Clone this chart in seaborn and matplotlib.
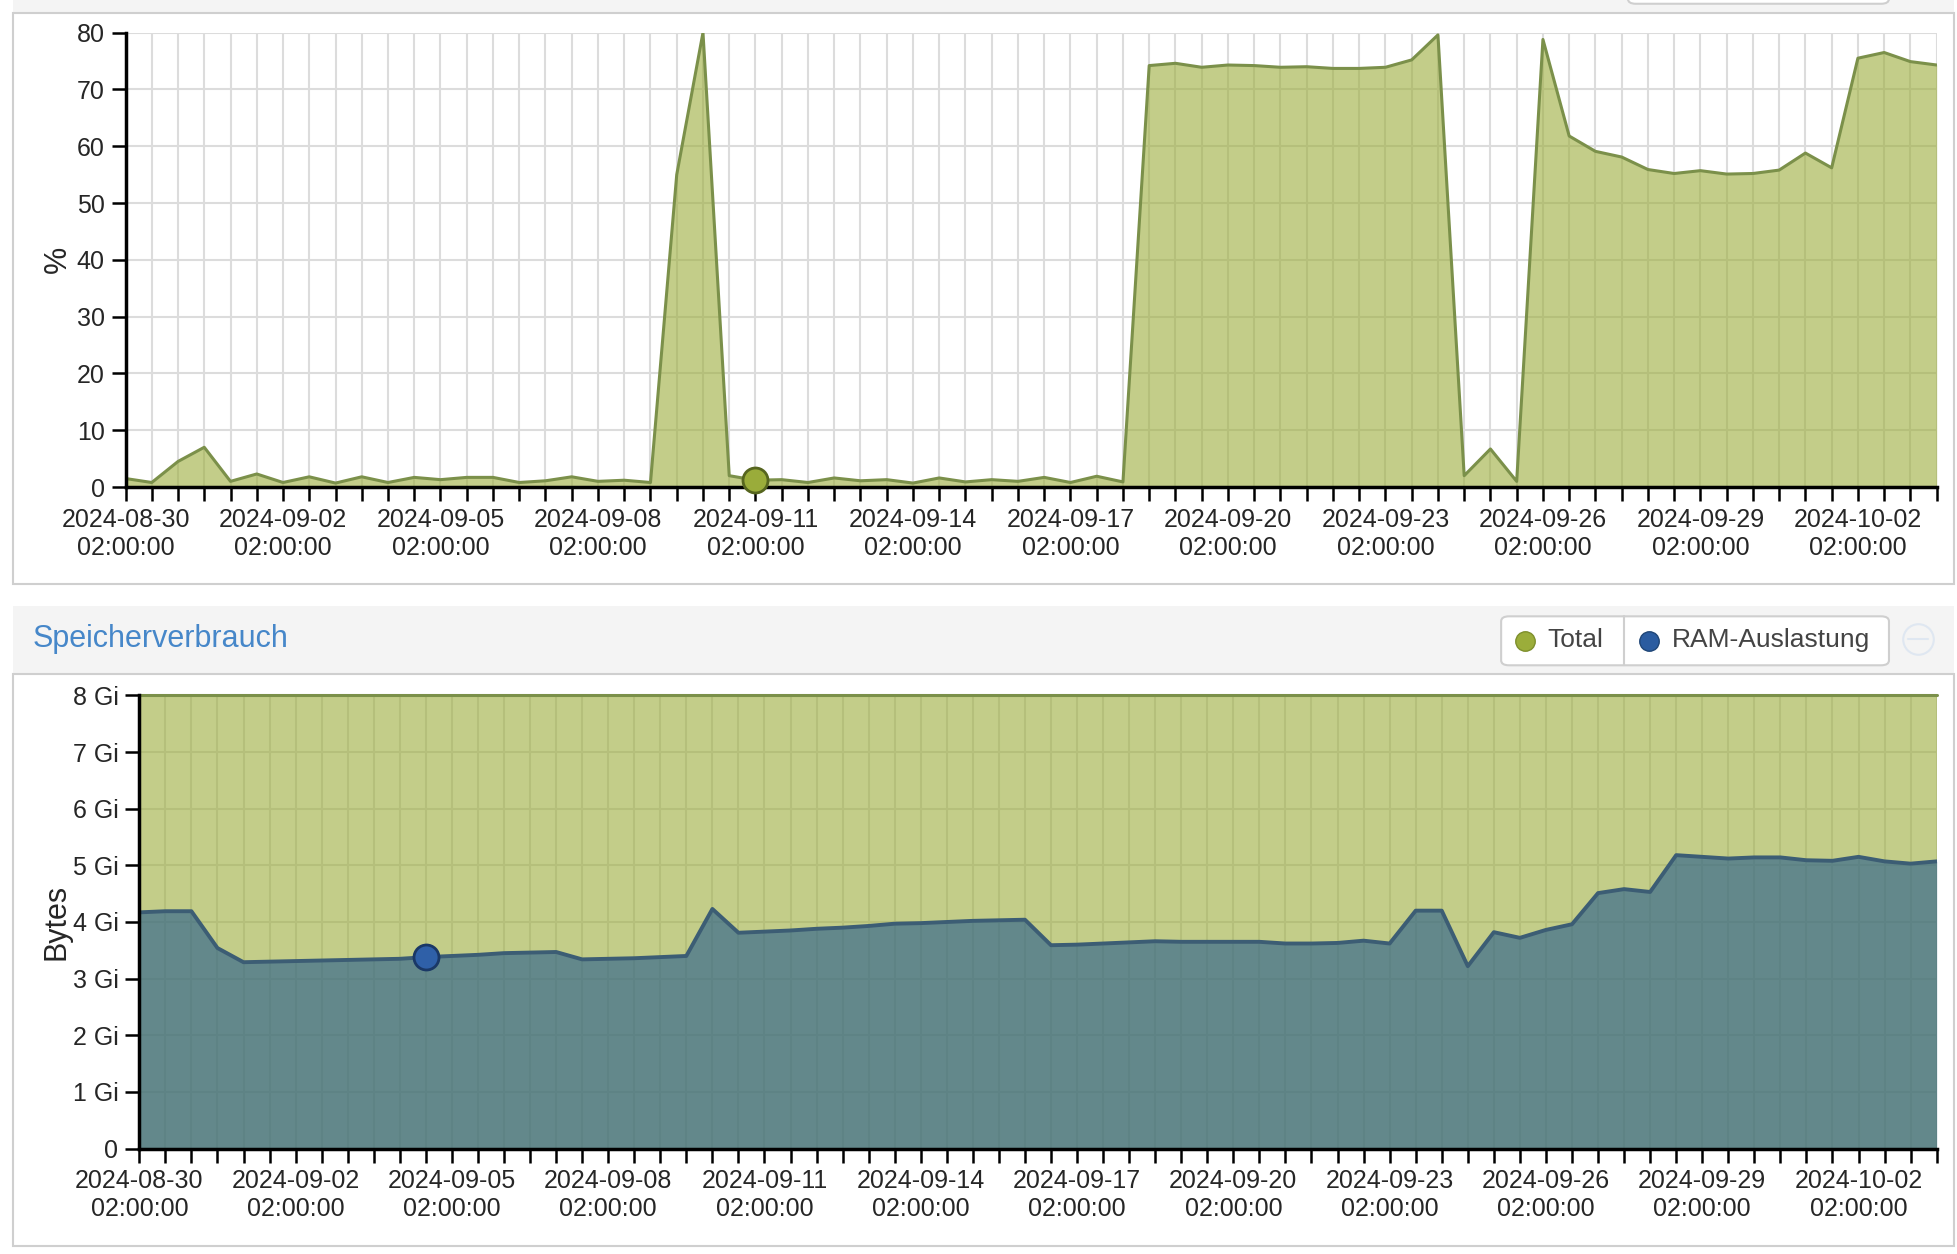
import numpy as np
import pandas as pd
import matplotlib
matplotlib.use("Agg")
import matplotlib.pyplot as plt
import seaborn as sns
from matplotlib.patches import Rectangle, FancyBboxPatch
from matplotlib.lines import Line2D

# ---------------- data ----------------
start_time = "2024-08-30 02:00"
step = "12h"

cpu_total = [1.5, 0.8, 4.5, 7.0, 1.0, 2.3, 0.8, 1.8, 0.7, 1.8,
             0.8, 1.7, 1.3, 1.7, 1.7, 0.8, 1.1, 1.8, 1.0, 1.2,
             0.8, 55.0, 80.0, 2.0, 1.2, 1.3, 0.8, 1.6, 1.1, 1.3,
             0.7, 1.6, 0.9, 1.3, 1.0, 1.7, 0.8, 1.9, 0.9, 74.2,
             74.6, 73.9, 74.3, 74.2, 73.9, 74.0, 73.7, 73.7, 73.9, 75.2,
             79.6, 2.0, 6.7, 1.0, 78.8, 61.8, 59.1, 58.1, 55.9, 55.2,
             55.7, 55.1, 55.2, 55.8, 58.8, 56.2, 75.5, 76.5, 74.9, 74.3]

ram_used_gi = [4.17, 4.19, 4.19, 3.54, 3.29, 3.30, 3.31, 3.32, 3.33, 3.34,
               3.35, 3.38, 3.40, 3.42, 3.45, 3.46, 3.47, 3.34, 3.35, 3.36,
               3.38, 3.40, 4.23, 3.81, 3.83, 3.85, 3.88, 3.90, 3.93, 3.97,
               3.98, 4.00, 4.02, 4.03, 4.04, 3.59, 3.60, 3.62, 3.64, 3.66,
               3.65, 3.65, 3.65, 3.65, 3.62, 3.62, 3.63, 3.67, 3.62, 4.20,
               4.20, 3.22, 3.82, 3.72, 3.86, 3.96, 4.51, 4.58, 4.53, 5.18,
               5.15, 5.12, 5.14, 5.14, 5.09, 5.08, 5.15, 5.07, 5.03, 5.07]

ram_total_gi = [8.0] * len(ram_used_gi)

cpu_yticks = [0, 10, 20, 30, 40, 50, 60, 70, 80]
ram_yticks = [0, 1, 2, 3, 4, 5, 6, 7, 8]
ram_ytick_labels = ["0", "1 Gi", "2 Gi", "3 Gi", "4 Gi", "5 Gi", "6 Gi", "7 Gi", "8 Gi"]

title_mem = "Speicherverbrauch"
legend_labels = ["Total", "RAM-Auslastung"]
cpu_ylabel = "%"
ram_ylabel = "Bytes"
cpu_marker_idx = 24
ram_marker_idx = 11

times = pd.date_range(start_time, periods=len(cpu_total), freq=step)
df_cpu = pd.DataFrame({"time": times, "cpu": cpu_total})
df_ram = pd.DataFrame({"time": times, "used": ram_used_gi, "total": ram_total_gi})

# ---------------- style ----------------
sns.set_theme(style="white")
plt.rcParams['font.family'] = ['Liberation Sans', 'DejaVu Sans']

GREEN = "#9bad3a"
GREEN_LINE = "#7b904a"
BLUE_FILL = "#245b8d"
BLUE_LINE = "#3c5d74"
GRID = "#dcdcdc"
BORDER = "#cfcfcf"
HEADER = "#f4f4f4"
FS = 18

W, H = 1560.0, 999.0
def fx(x): return x / W
def fy(y): return 1 - y / H

fig = plt.figure(figsize=(19.58, 12.54), dpi=100)
fig.patch.set_facecolor("white")

# header strips & panel boxes
fig.patches.append(Rectangle((fx(10), fy(10)), fx(1547), 10 / H, transform=fig.transFigure,
                             facecolor=HEADER, edgecolor="none", zorder=-10))
fig.patches.append(FancyBboxPatch((fx(1297), fy(3)), fx(208), 20 / H, transform=fig.transFigure,
                                  boxstyle="round,pad=0,rounding_size=0.004",
                                  facecolor="white", edgecolor=BORDER, lw=1.5, zorder=-9))
fig.patches.append(Rectangle((fx(10), fy(465)), fx(1547), 455 / H, transform=fig.transFigure,
                             facecolor="white", edgecolor=BORDER, lw=1.5, zorder=-8))
fig.patches.append(Rectangle((fx(10), fy(537)), fx(1547), 54 / H, transform=fig.transFigure,
                             facecolor=HEADER, edgecolor="none", zorder=-10))
fig.patches.append(Rectangle((fx(10), fy(993)), fx(1547), 456 / H, transform=fig.transFigure,
                             facecolor="white", edgecolor=BORDER, lw=1.5, zorder=-8))

# title and legend of memory panel
fig.text(fx(26), fy(509), title_mem, color="#4687c9", fontsize=22, ha="left", va="center")
fig.patches.append(FancyBboxPatch((fx(1196), fy(530)), fx(309), 39 / H, transform=fig.transFigure,
                                  boxstyle="round,pad=0,rounding_size=0.004",
                                  facecolor="white", edgecolor=BORDER, lw=1.5, zorder=-5))
fig.add_artist(Line2D([fx(1294), fx(1294)], [fy(491), fy(530)], transform=fig.transFigure,
                      color=BORDER, lw=1.5))
fig.add_artist(Line2D([fx(1215)], [fy(511)], transform=fig.transFigure, marker="o", ms=14,
                      mfc=GREEN, mec="#7e8f2c", mew=1))
fig.text(fx(1233), fy(510), legend_labels[0], fontsize=19, color="#444444", ha="left", va="center")
fig.add_artist(Line2D([fx(1314)], [fy(511)], transform=fig.transFigure, marker="o", ms=14,
                      mfc="#2b5ca0", mec="#1f4677", mew=1))
fig.text(fx(1332), fy(510), legend_labels[1], fontsize=19, color="#444444", ha="left", va="center")
fig.add_artist(Line2D([fx(1528)], [fy(509)], transform=fig.transFigure, marker="o", ms=22,
                      mfc="none", mec="#dfe7f1", mew=1.5))
fig.add_artist(Line2D([fx(1520), fx(1536)], [fy(509), fy(509)], transform=fig.transFigure,
                      color="#dfe7f1", lw=1.5))


def style_axis(ax):
    ax.set_facecolor("none")
    ax.set_axisbelow(True)
    ax.set_xticks(times, minor=True)
    ax.set_xticks(times[::6])
    ax.set_xticklabels([t.strftime("%Y-%m-%d\n%H:%M:%S") for t in times[::6]], fontsize=FS)
    ax.set_xlim(times[0], times[-1])
    ax.grid(True, which="both", axis="x", color=GRID, lw=1.5)
    ax.grid(True, which="major", axis="y", color=GRID, lw=1.5)
    for s in ["top", "right"]:
        ax.spines[s].set_visible(False)
    for s in ["left", "bottom"]:
        ax.spines[s].set_color("black")
        ax.spines[s].set_linewidth(2.5)
        ax.spines[s].set_zorder(6)
    ax.tick_params(axis="x", which="both", direction="out", length=10, width=1.8,
                   color="black", bottom=True, pad=5)
    ax.tick_params(axis="y", which="major", direction="out", length=10, width=1.8,
                   color="black", left=True, pad=5, labelsize=FS)
    ax.set_xlabel("")


# ---------------- CPU panel ----------------
ax1 = fig.add_axes([fx(100), fy(388), fx(1443), 362 / H])
ax1.fill_between(df_cpu["time"], df_cpu["cpu"], 0, color=GREEN, alpha=0.6, lw=0, zorder=1)
sns.lineplot(data=df_cpu, x="time", y="cpu", ax=ax1, color=GREEN_LINE, lw=2.2, zorder=3)
ax1.plot(times[cpu_marker_idx], cpu_total[cpu_marker_idx], "o", ms=18,
         mfc="#9aac3a", mec="#56651f", mew=2, zorder=7, clip_on=False)
ax1.set_ylim(0, 80)
ax1.set_yticks(cpu_yticks)
ax1.set_yticklabels([str(v) for v in cpu_yticks])
style_axis(ax1)
ax1.set_ylabel(cpu_ylabel, fontsize=22)
ax1.yaxis.set_label_coords((58 - 100) / 1443, 0.5)

# ---------------- RAM panel ----------------
ax2 = fig.add_axes([fx(111), fy(915), fx(1432), 361 / H])
ax2.fill_between(df_ram["time"], df_ram["total"], 0, color=GREEN, alpha=0.6, lw=0, zorder=1)
ax2.fill_between(df_ram["time"], df_ram["used"], 0, color=BLUE_FILL, alpha=0.6, lw=0, zorder=2)
sns.lineplot(data=df_ram, x="time", y="total", ax=ax2, color=GREEN_LINE, lw=2.2, zorder=3,
             clip_on=False)
sns.lineplot(data=df_ram, x="time", y="used", ax=ax2, color=BLUE_LINE, lw=2.8, zorder=4)
ax2.plot(times[ram_marker_idx], ram_used_gi[ram_marker_idx], "o", ms=18,
         mfc="#2f60a8", mec="#1a3866", mew=2, zorder=7)
ax2.set_ylim(0, 8)
ax2.set_yticks(ram_yticks)
ax2.set_yticklabels(ram_ytick_labels)
style_axis(ax2)
ax2.set_ylabel(ram_ylabel, fontsize=22)
ax2.yaxis.set_label_coords((57 - 111) / 1432, 0.5)

fig.savefig("out.png", dpi=100, facecolor="white")
